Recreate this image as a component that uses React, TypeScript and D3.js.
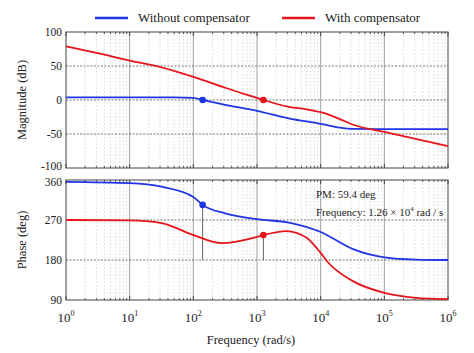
import React from "react";
import * as d3 from "d3";

const magBlueFreq = [1, 10, 50, 100, 140, 200, 316, 1000, 3160, 10000, 20000, 31600, 100000, 1000000];
const magBlueVal = [4, 4, 4, 3, 0, -3, -7, -16, -27, -35, -40.5, -42.5, -42.8, -42.8];
const magRedFreq = [1, 3.16, 10, 31.6, 100, 316, 1000, 1260, 3160, 6310, 10000, 20000, 31600, 100000, 1000000];
const magRedVal = [79, 69, 58, 48, 34, 18, 3, 0, -10, -14, -18, -28, -36, -47, -68];
const phBlueFreq = [1, 10, 31.6, 100, 140, 316, 1000, 3160, 10000, 31600, 100000, 316000, 1000000];
const phBlueVal = [356, 353, 345, 322, 304, 285, 272, 264, 243, 205, 186, 181, 180];
const phRedFreq = [1, 10, 31.6, 100, 280, 1000, 1260, 2900, 6000, 10000, 13000, 31600, 100000, 316000, 1000000];
const phRedVal = [270, 269, 263, 236, 218, 232, 236, 245, 230, 196, 175, 133, 106, 95, 92];

const markerFreq = [140, 1260];
const markerMag = [0, 0];
const markerPhase = [304, 236];

const magTicks = [100, 50, 0, -50, -100];
const phaseTicks = [360, 270, 180, 90];
const decades = [0, 1, 2, 3, 4, 5, 6];

const BLUE = "#1f35e6";
const RED = "#e8141c";
const FONT = "'Liberation Serif', 'Times New Roman', serif";

export default function App() {
  const W = 474, H = 353;
  const x0 = 66, x1 = 448;
  const x = d3.scaleLog().domain([1, 1e6]).range([x0, x1]);
  const yM = d3.scaleLinear().domain([-100, 100]).range([168, 32]);
  const yP = d3.scaleLinear().domain([90, 360]).range([300, 180]);

  const minor: number[] = [];
  for (let d = 0; d < 6; d++) for (let k = 2; k <= 9; k++) minor.push(k * Math.pow(10, d));

  const lineM = d3.line<[number, number]>().x(d => x(d[0])).y(d => yM(d[1])).curve(d3.curveMonotoneX);
  const lineP = d3.line<[number, number]>().x(d => x(d[0])).y(d => yP(d[1])).curve(d3.curveMonotoneX);
  const zip = (a: number[], b: number[]) => a.map((v, i) => [v, b[i]] as [number, number]);

  const panel = (yTop: number, yBot: number, key: string) => (
    <g key={key}>
      {minor.map((f, i) => (
        <line key={"mi" + i} x1={x(f)} x2={x(f)} y1={yTop} y2={yBot} stroke="#c8c8c8" strokeWidth={0.7} strokeDasharray="1.5,2" />
      ))}
      {decades.slice(1, 6).map(d => (
        <line key={"ma" + d} x1={x(Math.pow(10, d))} x2={x(Math.pow(10, d))} y1={yTop} y2={yBot} stroke="#888" strokeWidth={0.8} />
      ))}
      {minor.map((f, i) => (
        <g key={"tk" + i}>
          <line x1={x(f)} x2={x(f)} y1={yTop} y2={yTop + 2} stroke="#333" strokeWidth={0.8} />
          <line x1={x(f)} x2={x(f)} y1={yBot} y2={yBot - 2} stroke="#333" strokeWidth={0.8} />
        </g>
      ))}
      {decades.map(d => (
        <g key={"dt" + d}>
          <line x1={x(Math.pow(10, d))} x2={x(Math.pow(10, d))} y1={yTop} y2={yTop + 4} stroke="#333" strokeWidth={0.9} />
          <line x1={x(Math.pow(10, d))} x2={x(Math.pow(10, d))} y1={yBot} y2={yBot - 4} stroke="#333" strokeWidth={0.9} />
        </g>
      ))}
    </g>
  );

  return (
    <svg width={W} height={H} style={{ position: "absolute", left: 0, top: 0, background: "#fff" }} fontFamily={FONT}>
      {/* legend */}
      <line x1={95} x2={128} y1={18} y2={18} stroke={BLUE} strokeWidth={2.5} />
      <text x={138} y={22} fontSize={13} fill="#222">Without compensator</text>
      <line x1={282} x2={315} y1={18} y2={18} stroke={RED} strokeWidth={2.5} />
      <text x={325} y={22} fontSize={13} fill="#222">With compensator</text>

      {panel(32, 168, "m")}
      {panel(180, 300, "p")}

      {/* horizontal grid */}
      {magTicks.slice(1, 4).map(t => (
        <line key={"hm" + t} x1={x0} x2={x1} y1={yM(t)} y2={yM(t)} stroke="#555" strokeWidth={0.8} strokeDasharray="2,1.5" />
      ))}
      {phaseTicks.slice(1, 3).map(t => (
        <line key={"hp" + t} x1={x0} x2={x1} y1={yP(t)} y2={yP(t)} stroke="#555" strokeWidth={0.8} strokeDasharray="2,1.5" />
      ))}

      {/* frames */}
      <rect x={x0} y={32} width={x1 - x0} height={136} fill="none" stroke="#444" strokeWidth={1} />
      <rect x={x0} y={180} width={x1 - x0} height={120} fill="none" stroke="#444" strokeWidth={1} />

      {/* y tick labels */}
      {magTicks.map(t => (
        <text key={"lm" + t} x={62} y={yM(t) + (t === -100 ? 2 : 4)} fontSize={11.5} textAnchor="end" fill="#222">{t}</text>
      ))}
      {phaseTicks.map(t => (
        <text key={"lp" + t} x={62} y={yP(t) + (t === 360 ? 6 : 4)} fontSize={11.5} textAnchor="end" fill="#222">{t}</text>
      ))}

      {/* x tick labels */}
      {decades.map(d => (
        <text key={"xl" + d} x={x(Math.pow(10, d))} y={322} fontSize={13} textAnchor="middle" fill="#222">
          10<tspan dy={-6} fontSize={8}>{d}</tspan>
        </text>
      ))}

      {/* axis titles */}
      <text transform="translate(26,100) rotate(-90)" textAnchor="middle" fontSize={12.5} fill="#222">Magnitude (dB)</text>
      <text transform="translate(26,240) rotate(-90)" textAnchor="middle" fontSize={12.5} fill="#222">Phase (deg)</text>
      <text x={251} y={344} textAnchor="middle" fontSize={12.5} fill="#222">Frequency (rad/s)</text>

      {/* marker drop lines */}
      {markerFreq.map((f, i) => (
        <line key={"dl" + i} x1={x(f)} x2={x(f)} y1={yP(markerPhase[i])} y2={yP(180)} stroke="#555" strokeWidth={0.9} />
      ))}

      {/* curves */}
      <path d={lineM(zip(magBlueFreq, magBlueVal)) || ""} fill="none" stroke={BLUE} strokeWidth={1.8} />
      <path d={lineM(zip(magRedFreq, magRedVal)) || ""} fill="none" stroke={RED} strokeWidth={1.8} />
      <path d={lineP(zip(phBlueFreq, phBlueVal)) || ""} fill="none" stroke={BLUE} strokeWidth={1.8} />
      <path d={lineP(zip(phRedFreq, phRedVal)) || ""} fill="none" stroke={RED} strokeWidth={1.8} />

      {/* markers */}
      {markerFreq.map((f, i) => (
        <g key={"mk" + i}>
          <circle cx={x(f)} cy={yM(markerMag[i])} r={3.3} fill={i === 0 ? BLUE : RED} />
          <circle cx={x(f)} cy={yP(markerPhase[i])} r={3.3} fill={i === 0 ? BLUE : RED} />
        </g>
      ))}

      {/* annotation */}
      <text x={316} y={198} fontSize={11} fill="#222">PM: 59.4 deg</text>
      <text x={316} y={216} fontSize={11} fill="#222">
        Frequency: 1.26 × 10<tspan dy={-5} fontSize={7}>4</tspan><tspan dy={5}> rad / s</tspan>
      </text>
    </svg>
  );
}
